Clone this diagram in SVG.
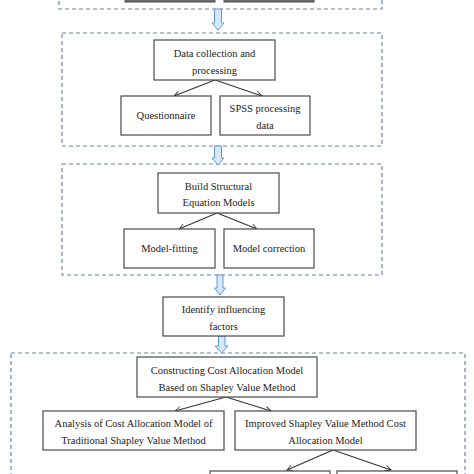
<svg xmlns="http://www.w3.org/2000/svg" width="474" height="474" viewBox="0 0 474 474">
<defs>
<style>
.box{fill:#fff;stroke:#4a4a4a;stroke-width:1.2}
.gbox{fill:#6e6e6e;stroke:#4a4a4a;stroke-width:1}
.cont{fill:none;stroke:#6a88a3;stroke-width:1.2;stroke-dasharray:4,3}
.blk{fill:#d6e8f7;stroke:#5b9bd5;stroke-width:1}
.con{fill:none;stroke:#333;stroke-width:1.1;marker-end:url(#ah)}
text{font-family:"Liberation Serif","Times New Roman",serif;font-size:10.5px;fill:#222;text-anchor:middle}
</style>
<marker id="ah" viewBox="0 0 10 10" refX="9" refY="5" markerWidth="7" markerHeight="7" orient="auto" markerUnits="userSpaceOnUse">
<path d="M1,1 L9,5 L1,9" fill="none" stroke="#333" stroke-width="1.3"/>
</marker>
</defs>
<rect width="474" height="474" fill="#fff"/>

<g id="containers">
<rect class="cont" x="59" y="-20" width="323" height="29"/>
<rect class="cont" x="62" y="33" width="320" height="113"/>
<rect class="cont" x="62" y="164" width="320" height="111"/>
<rect class="cont" x="11" y="353" width="454" height="140"/>
</g>

<g id="top-boxes">
<rect class="gbox" x="125" y="-10" width="90" height="12"/>
<rect class="gbox" x="224" y="-10" width="90" height="12"/>
</g>

<g id="block-arrows">
<path class="blk" d="M214.5,9 H221.5 V23 H224 L218,30 L212,23 H214.5 Z"/>
<path class="blk" d="M214.5,146 H221.5 V158 H224 L218,165 L212,158 H214.5 Z"/>
<path class="blk" d="M217,275 H223 V288 H225.5 L220,295 L214.5,288 H217 Z"/>
<path class="blk" d="M218.5,336 H225 V346 H228 L221.5,353 L215,346 H218.5 Z"/>
</g>

<g id="connectors">
<line class="con" x1="215" y1="80" x2="174" y2="96"/>
<line class="con" x1="215" y1="80" x2="262" y2="96"/>
<line class="con" x1="217" y1="213" x2="179" y2="229"/>
<line class="con" x1="217" y1="213" x2="257" y2="229"/>
<line class="con" x1="226" y1="397" x2="175" y2="411"/>
<line class="con" x1="226" y1="397" x2="271" y2="411"/>
<line class="con" x1="333" y1="450" x2="287" y2="470"/>
<line class="con" x1="333" y1="450" x2="391" y2="470"/>
</g>

<g id="n-data">
<rect class="box" x="154" y="40" width="121" height="40"/>
<text x="214.5" y="57">Data collection and</text>
<text x="214.5" y="74">processing</text>
</g>
<g id="n-quest">
<rect class="box" x="121" y="96" width="90" height="39"/>
<text x="166" y="119">Questionnaire</text>
</g>
<g id="n-spss">
<rect class="box" x="220" y="96" width="90" height="39"/>
<text x="265" y="112">SPSS processing</text>
<text x="265" y="129">data</text>
</g>

<g id="n-build">
<rect class="box" x="158" y="173" width="121" height="40"/>
<text x="218.5" y="190">Build Structural</text>
<text x="218.5" y="206">Equation Models</text>
</g>
<g id="n-fit">
<rect class="box" x="124" y="229" width="91" height="39"/>
<text x="169.5" y="252">Model-fitting</text>
</g>
<g id="n-corr">
<rect class="box" x="224" y="229" width="90" height="39"/>
<text x="269" y="252">Model correction</text>
</g>

<g id="n-identify">
<rect class="box" x="163" y="297" width="121" height="39"/>
<text x="223.5" y="313">Identify influencing</text>
<text x="223.5" y="330">factors</text>
</g>

<g id="n-construct">
<rect class="box" x="137" y="357" width="180" height="40"/>
<text x="227" y="374">Constructing Cost Allocation Model</text>
<text x="227" y="391">Based on Shapley Value Method</text>
</g>
<g id="n-analysis">
<rect class="box" x="43" y="411" width="181" height="39"/>
<text x="133.5" y="427">Analysis of Cost Allocation Model of</text>
<text x="133.5" y="444">Traditional Shapley Value Method</text>
</g>
<g id="n-improved">
<rect class="box" x="235" y="411" width="181" height="39"/>
<text x="325.5" y="427">Improved Shapley Value Method Cost</text>
<text x="325.5" y="444">Allocation Model</text>
</g>
<g id="n-bottom1">
<rect class="box" x="210" y="471" width="120" height="20"/>
</g>
<g id="n-bottom2">
<rect class="box" x="337" y="471" width="120" height="20"/>
</g>
</svg>
